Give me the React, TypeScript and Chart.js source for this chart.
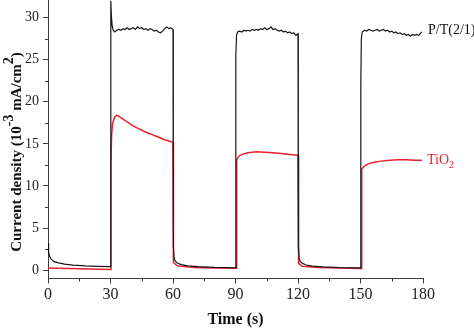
import React, { useEffect, useRef } from "react";
import { Chart, registerables } from "chart.js";

Chart.register(...registerables);

// P/T(2/1) photocurrent under chopped light (s, 10^-3 mA/cm^2)
const ptTime = [
  0, 0.3, 0.7, 1.5, 3, 5, 8, 12, 18, 24, 30,
  30.15, 30.4, 30.8, 31.3, 32, 33, 34, 35, 36, 37, 38, 39, 40, 41, 42, 43, 44, 45, 46, 47, 48, 49, 50,
  51, 52, 53, 54, 55, 56, 57, 58, 59, 60,
  60.15, 60.5, 61, 62, 64, 67, 72, 80, 90,
  90.15, 90.5, 91, 92, 93, 94, 95, 96, 97, 98, 99, 100, 101, 102, 103, 104, 105, 106, 107, 108, 109,
  110, 111, 112, 113, 114, 115, 116, 117, 118, 119, 120,
  120.15, 120.5, 121, 122, 124, 127, 132, 140, 150,
  150.15, 150.4, 150.8, 152, 153, 154, 155, 156, 157, 158, 159, 160, 161, 162, 163, 164, 165, 166,
  167, 168, 169, 170, 171, 172, 173, 174, 175, 176, 177, 178, 179, 179.5,
];
const ptCurrent = [
  3.2, 2.2, 1.7, 1.3, 1.0, 0.85, 0.7, 0.6, 0.5, 0.45, 0.4,
  32.0, 30.3, 29.0, 28.5, 28.3, 28.5, 28.6, 28.5, 28.7, 28.6, 28.8, 28.6, 28.7, 28.8, 28.6, 28.9, 28.7, 28.8, 28.6, 28.7, 28.5, 28.7, 28.6,
  28.4, 28.5, 28.3, 28.2, 28.4, 28.7, 28.9, 28.7, 28.8, 28.6,
  3.0, 1.5, 1.1, 0.85, 0.65, 0.5, 0.4, 0.32, 0.28,
  25.5, 27.9, 28.3, 28.4, 28.3, 28.5, 28.4, 28.5, 28.4, 28.6, 28.5, 28.6, 28.5, 28.7, 28.6, 28.8, 28.6, 28.7, 28.9, 28.6, 28.7,
  28.5, 28.4, 28.5, 28.3, 28.4, 28.2, 28.3, 28.1, 28.2, 27.9, 28.1,
  3.0, 1.4, 1.05, 0.8, 0.6, 0.48, 0.38, 0.3, 0.26,
  22.0, 27.5, 28.3, 28.5, 28.4, 28.6, 28.5, 28.4, 28.5, 28.6, 28.4, 28.5, 28.6, 28.4, 28.5, 28.3, 28.4, 28.2,
  28.3, 28.1, 28.2, 28.0, 28.1, 27.9, 28.0, 27.8, 28.0, 27.9, 28.0, 27.9, 28.2, 28.3,
];

// TiO2 photocurrent under chopped light
const tioTime = [
  0, 10, 20, 30,
  30.2, 30.5, 31, 32, 33, 34, 35, 36, 38, 40, 42, 44, 46, 48, 50, 52, 54, 56, 58, 60,
  60.2, 62, 70, 80, 90.3,
  90.45, 90.7, 91.5, 93, 96, 100, 104, 108, 112, 116, 120,
  120.3, 122, 130, 140, 150.3,
  150.45, 150.7, 152, 154, 157, 160, 164, 168, 172, 176, 179.5,
];
const tioCurrent = [
  0.25, 0.2, 0.12, 0.08,
  12.5, 16.0, 17.4, 18.2, 18.4, 18.3, 18.1, 17.95, 17.6, 17.25, 17.0, 16.75, 16.5, 16.3, 16.1, 15.9, 15.7, 15.5, 15.35, 15.2,
  0.9, 0.5, 0.3, 0.25, 0.22,
  10.5, 13.1, 13.5, 13.75, 13.95, 14.05, 14.0, 13.95, 13.85, 13.75, 13.65,
  0.8, 0.45, 0.3, 0.24, 0.2,
  10.0, 12.0, 12.4, 12.65, 12.85, 12.95, 13.05, 13.1, 13.1, 13.05, 13.05,
];

const xMajorTicks = [0, 30, 60, 90, 120, 150, 180];
const xMinorTicks = [15, 45, 75, 105, 135, 165];
const yMajorTicks = [0, 5, 10, 15, 20, 25, 30];
const yMinorTicks = [2.5, 7.5, 12.5, 17.5, 22.5, 27.5];

const SERIF = '"Liberation Serif", "Times New Roman", serif';
const AXIS_COLOR = "#3a3a3a";
const BLACK = "#161616";
const RED = "#e8202e";

const toPoints = (xs: number[], ys: number[]) => xs.map((x, i) => ({ x, y: ys[i] }));

// Draws the minor ticks, the axis titles (with super/subscripts) and the series labels.
const decorations = {
  id: "decorations",
  afterDraw(chart: any) {
    const { ctx, chartArea, scales } = chart;
    const xs = scales.x;
    const ys = scales.y;
    ctx.save();
    ctx.strokeStyle = AXIS_COLOR;
    ctx.lineWidth = 1;
    ctx.beginPath();
    xMinorTicks.forEach((v) => {
      const px = Math.round(xs.getPixelForValue(v)) + 0.5;
      ctx.moveTo(px, chartArea.bottom);
      ctx.lineTo(px, chartArea.bottom + 3);
    });
    yMinorTicks.forEach((v) => {
      const py = Math.round(ys.getPixelForValue(v)) + 0.5;
      ctx.moveTo(chartArea.left, py);
      ctx.lineTo(chartArea.left - 3, py);
    });
    ctx.stroke();

    // x title
    ctx.fillStyle = "#111";
    ctx.font = `bold 16px ${SERIF}`;
    ctx.textAlign = "center";
    ctx.textBaseline = "middle";
    ctx.fillText("Time (s)", (chartArea.left + chartArea.right) / 2, 320);

    // y title, rotated, with superscripts
    const parts: { t: string; sup: boolean }[] = [
      { t: "Current density (10", sup: false },
      { t: "-3", sup: true },
      { t: " mA/cm", sup: false },
      { t: "2", sup: true },
      { t: ")", sup: false },
    ];
    const mainFont = `bold 15px ${SERIF}`;
    const supFont = `bold 14px ${SERIF}`;
    let total = 0;
    parts.forEach((p) => {
      ctx.font = p.sup ? supFont : mainFont;
      total += ctx.measureText(p.t).width;
    });
    ctx.translate(17, 152);
    ctx.rotate(-Math.PI / 2);
    ctx.textAlign = "left";
    ctx.textBaseline = "middle";
    let cx = -total / 2;
    parts.forEach((p) => {
      ctx.font = p.sup ? supFont : mainFont;
      ctx.fillText(p.t, cx, p.sup ? -8 : 0);
      cx += ctx.measureText(p.t).width;
    });
    ctx.restore();

    // series labels
    ctx.save();
    ctx.textAlign = "left";
    ctx.textBaseline = "middle";
    ctx.font = `14px ${SERIF}`;
    ctx.fillStyle = "#111";
    ctx.fillText("P/T(2/1)", chartArea.right + 5, ys.getPixelForValue(28.3) - 2);
    ctx.fillStyle = RED;
    const ty = ys.getPixelForValue(13.05);
    const tx = chartArea.right + 4;
    ctx.fillText("TiO", tx, ty);
    const w = ctx.measureText("TiO").width;
    ctx.font = `10px ${SERIF}`;
    ctx.fillText("2", tx + w, ty + 5);
    ctx.restore();
  },
};

export default function App() {
  const canvasRef = useRef<HTMLCanvasElement | null>(null);

  useEffect(() => {
    const canvas = canvasRef.current;
    if (!canvas) return;
    const chart = new Chart(canvas, {
      type: "line",
      data: {
        datasets: [
          {
            label: "P/T(2/1)",
            data: toPoints(ptTime, ptCurrent),
            borderColor: BLACK,
            borderWidth: 1.2,
            pointRadius: 0,
            tension: 0,
            fill: false,
          },
          {
            label: "TiO2",
            data: toPoints(tioTime, tioCurrent),
            borderColor: RED,
            borderWidth: 1.5,
            pointRadius: 0,
            tension: 0,
            fill: false,
          },
        ],
      },
      options: {
        responsive: false,
        animation: false,
        layout: { padding: { left: 0, top: 0, right: 51, bottom: 0 } },
        plugins: { legend: { display: false }, tooltip: { enabled: false } },
        scales: {
          x: {
            type: "linear",
            min: 0,
            max: 180,
            afterBuildTicks: (s: any) => {
              s.ticks = xMajorTicks.map((value) => ({ value }));
            },
            afterFit: (s: any) => {
              s.height = 50.5;
              s.paddingLeft = 0;
              s.paddingRight = 0;
            },
            ticks: { font: { family: SERIF, size: 16 }, color: "#222", padding: 2, maxRotation: 0 },
            grid: { display: true, drawOnChartArea: false, tickLength: 5, color: AXIS_COLOR },
            border: { display: true, color: AXIS_COLOR, width: 1 },
          },
          y: {
            type: "linear",
            min: -1,
            max: 32.1,
            afterBuildTicks: (s: any) => {
              s.ticks = yMajorTicks.map((value) => ({ value }));
            },
            afterFit: (s: any) => {
              s.width = 48;
              s.paddingTop = 0;
              s.paddingBottom = 0;
            },
            ticks: { font: { family: SERIF, size: 14 }, color: "#222", padding: 4 },
            grid: { display: true, drawOnChartArea: false, tickLength: 5, color: AXIS_COLOR },
            border: { display: true, color: AXIS_COLOR, width: 1 },
          },
        },
      },
      plugins: [decorations],
    });
    return () => chart.destroy();
  }, []);

  return (
    <div style={{ position: "fixed", left: 0, top: 0, width: 474, height: 329, background: "#fff" }}>
      <canvas ref={canvasRef} width={474} height={329} />
    </div>
  );
}
